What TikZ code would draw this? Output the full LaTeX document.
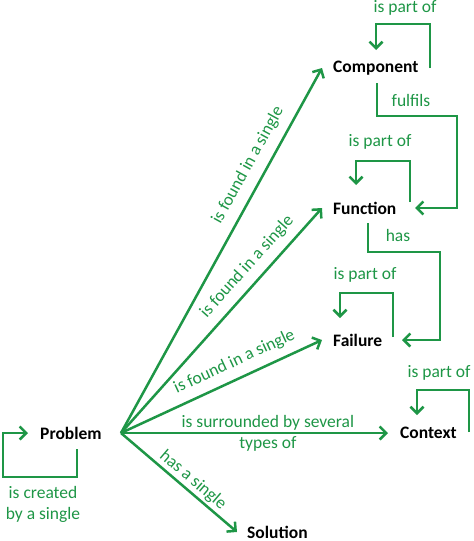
\documentclass[tikz,border=0pt]{standalone}
\usepackage{fontspec}
\setmainfont{Carlito}
\usetikzlibrary{arrows.meta}
\definecolor{cgreen}{RGB}{30,150,70}
\begin{document}
\begin{tikzpicture}[x=1pt,y=-1pt,
 concept/.style={font=\fontsize{17.5}{21}\selectfont\bfseries, inner sep=0pt, anchor=west},
 rel/.style={draw=cgreen, line width=2.5pt, -{Straight Barb[length=6.5pt,width=13pt]}},
 lbl/.style={text=cgreen, font=\fontsize{17.5}{21}\selectfont, inner sep=0pt},
]
\useasboundingbox (0,0) rectangle (474,541);

% concepts
\node[concept] (comp) at (333,68) {Component};
\node[concept] (func) at (333,208) {Function};
\node[concept] (fail) at (333,340) {Failure};
\node[concept] (ctx)  at (400,433) {Context};
\node[concept] (prob) at (40,433) {Problem};
\node[concept] (sol)  at (247,532) {Solution};

\coordinate (hub) at (121,433);

% fan-out relations
\draw[rel] (hub) -- ([xshift=-11pt]comp.west)
  node[lbl, sloped, pos=0.71, above=9pt] {is found in a single};
\draw[rel] (hub) -- ([xshift=-11pt]func.west)
  node[lbl, sloped, pos=0.69, above=8pt] {is found in a single};
\draw[rel] (hub) -- ([xshift=-11pt]fail.west)
  node[lbl, sloped, pos=0.6, above=8pt] {is found in a single};
\draw[rel] (hub) -- ([xshift=-12pt]ctx.west)
  node[lbl, pos=0.55, align=center] {is surrounded by several\\types of};
\draw[rel] (hub) -- ([xshift=-10pt]sol.west)
  node[lbl, sloped, pos=0.56, above=2pt] {has a single};

% component
\draw[rel] (430,68) |- (376,24) -- (376,50);
\node[lbl] (lcomp) at (405,8) {is part of};
\draw[rel] (377,83) |- (457,116) |- (415,208);
\node[lbl] (lful) at (411,100) {fulfils};

% function
\draw[rel] (410,202) |- (356,161) -- (356,185);
\node[lbl] (lfunc) at (380,142) {is part of};
\draw[rel] (368,223) |- (440,252) |- (402,340);
\node[lbl] (lhas) at (398,235) {has};

% failure
\draw[rel] (393,337) |- (340,293) -- (340,318);
\node[lbl] (lfail) at (365,275) {is part of};

% context
\draw[rel] (469,432) |- (417,390) -- (417,415);
\node[lbl] (lctx) at (439,373) {is part of};

% problem
\draw[rel] (77,449) |- (3,477) |- (28,433);
\node[lbl, align=center] (lprob) at (43,504) {is created\\by a single};
\end{tikzpicture}
\end{document}
